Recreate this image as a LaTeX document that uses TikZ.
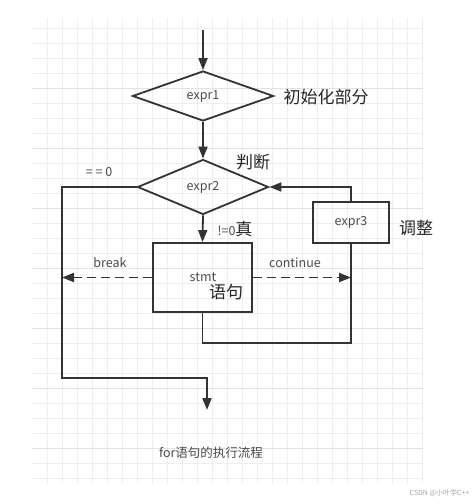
\documentclass[tikz,border=0pt]{standalone}
\usepackage{fontspec}
\setmainfont{Noto Sans CJK SC}
\usetikzlibrary{shapes.geometric,arrows.meta}
\definecolor{linegray}{HTML}{333333}
\definecolor{textgray}{HTML}{4A4A4A}
\definecolor{gridgray}{HTML}{EEEEEE}
\definecolor{gridgrayb}{HTML}{E2E2E2}
\begin{document}
\begin{tikzpicture}[x=1pt,y=-1pt,
  line/.style={draw=linegray, line width=1.8pt},
  arr/.style={line, -{Triangle[length=12pt,width=9pt]}},
  dasharr/.style={arr, dash pattern=on 9pt off 5pt},
  dec/.style={diamond, draw=linegray, line width=1.8pt, inner sep=0pt, text=textgray, font=\fontsize{12.5}{14}\selectfont},
  box/.style={rectangle, draw=linegray, line width=1.8pt, inner sep=0pt, text=textgray, font=\fontsize{12.5}{14}\selectfont},
  small/.style={text=textgray, font=\fontsize{12.5}{14}\selectfont},
  big/.style={text=black!85, font=\fontsize{17}{19}\selectfont}]
\useasboundingbox (0,0) rectangle (474,502);
\fill[white] (0,0) rectangle (474,502);
% grid
\foreach \gx in {47,62,...,422}
\draw[gridgray, line width=0.6pt] (\gx,18) -- (\gx,483);
\foreach \gy in {28,43,...,478}
\draw[gridgray, line width=0.6pt] (32,\gy) -- (423,\gy);
\foreach \gy in {88,148,...,448}
\draw[gridgrayb, line width=0.8pt] (32,\gy) -- (423,\gy);
% blocks
\node[dec, minimum width=141pt, minimum height=50pt] (expr1) at (203,96) {expr1};
\node[dec, minimum width=131pt, minimum height=55pt] (expr2) at (203,187) {expr2};
\node[box, minimum width=99pt, minimum height=69pt] (stmt) at (202.5,277.5) {};
\node[box, minimum width=76pt, minimum height=41pt] (expr3) at (351,222.5) {expr3};
\node[small] (stmttxt) at (203,277) {stmt};
\node[big] (yuju) at (226,292) {语句};
% labels
\node[big] (init) at (326,97) {初始化部分};
\node[big] (judge) at (253,162) {判断};
\node[small] (eqz) at (99,172) {= = 0};
\node[big] (neqz) at (235,229) {{\fontsize{12.5}{14}\selectfont\color{textgray}!=0}真};
\node[big] (adjust) at (416,228) {调整};
\node[small] (brklbl) at (110,263) {break};
\node[small] (contlbl) at (295,263) {continue};
\node[text=textgray, font=\fontsize{12.5}{14}\selectfont] (title) at (211,453) {for语句的执行流程};
\node[text=black!35, font=\fontsize{7}{8}\selectfont, anchor=east] (mark) at (473,493) {CSDN @小叶学C++};
% connectors
\coordinate (start) at (203,30);
\coordinate (lcorner) at (62,378);
\coordinate (exit) at (207,410);
\coordinate (brk) at (62,277.5);
\coordinate (cont) at (351,277.5);
\draw[arr] (start) -- (expr1.north);
\draw[arr] (expr1.south) -- (expr2.north);
\draw[arr] (expr2.south) -- (stmt.north);
\draw[arr] (expr3.north) |- (expr2.east);
\draw[arr] (expr2.west) -| (lcorner) -| (exit);
\draw[line] (stmt.south) -- ++(0,30) -| (expr3.south);
\draw[dasharr] (stmt.west) -- (brk);
\draw[dasharr] (stmt.east) -- (cont);
\end{tikzpicture}
\end{document}
